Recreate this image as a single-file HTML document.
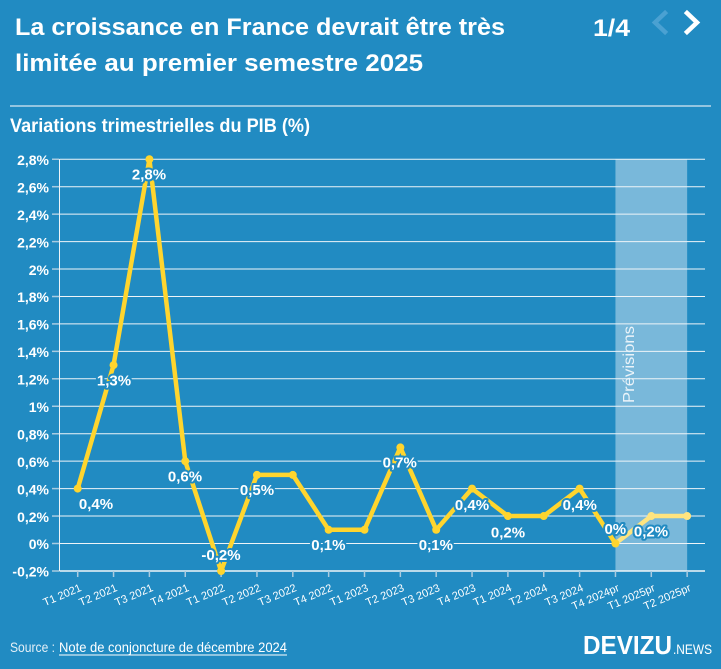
<!DOCTYPE html>
<html lang="fr">
<head>
<meta charset="utf-8">
<style>
  html,body{margin:0;padding:0;background:#218bc2;}
  svg{display:block;}
  text{font-family:"Liberation Sans", sans-serif;}
</style>
</head>
<body>
<svg width="721" height="669" viewBox="0 0 721 669" xmlns="http://www.w3.org/2000/svg">
  <rect x="0" y="0" width="721" height="669" fill="#218bc2"/>

  <!-- Header -->
  <text x="15" y="35" font-size="24" font-weight="bold" fill="#ffffff" textLength="490" lengthAdjust="spacingAndGlyphs">La croissance en France devrait être très</text>
  <text x="15" y="71" font-size="24" font-weight="bold" fill="#ffffff" textLength="408" lengthAdjust="spacingAndGlyphs">limitée au premier semestre 2025</text>
  <text x="593" y="36" font-size="24" font-weight="bold" fill="#ffffff" textLength="37" lengthAdjust="spacingAndGlyphs">1/4</text>
  <polyline points="665,13 655,22.5 665,32" fill="none" stroke="#4aa1d2" stroke-width="4.5" stroke-linecap="square"/>
  <polyline points="687,13 697,22.5 687,32" fill="none" stroke="#ffffff" stroke-width="4.5" stroke-linecap="square"/>

  <line x1="10" y1="106" x2="711" y2="106" stroke="#d9e8f2" stroke-width="1.2"/>
  <text x="10" y="132" font-size="19" font-weight="bold" fill="#ffffff" textLength="300" lengthAdjust="spacingAndGlyphs">Variations trimestrielles du PIB (%)</text>

  <!-- Forecast band -->
  <rect x="615.45" y="159.25" width="71.7" height="411.75" fill="#79b8da"/>

  <!-- Gridlines -->
  <g stroke="#eef4f8" stroke-width="1">
    <line x1="59.5" y1="159.25" x2="705" y2="159.25"/>
    <line x1="59.5" y1="186.7" x2="705" y2="186.7"/>
    <line x1="59.5" y1="214.15" x2="705" y2="214.15"/>
    <line x1="59.5" y1="241.6" x2="705" y2="241.6"/>
    <line x1="59.5" y1="269.05" x2="705" y2="269.05"/>
    <line x1="59.5" y1="296.5" x2="705" y2="296.5"/>
    <line x1="59.5" y1="323.9" x2="705" y2="323.9"/>
    <line x1="59.5" y1="351.35" x2="705" y2="351.35"/>
    <line x1="59.5" y1="378.8" x2="705" y2="378.8"/>
    <line x1="59.5" y1="406.25" x2="705" y2="406.25"/>
    <line x1="59.5" y1="433.75" x2="705" y2="433.75"/>
    <line x1="59.5" y1="461.15" x2="705" y2="461.15"/>
    <line x1="59.5" y1="488.6" x2="705" y2="488.6"/>
    <line x1="59.5" y1="516.05" x2="705" y2="516.05"/>
    <line x1="59.5" y1="543.5" x2="705" y2="543.5"/>
    <line x1="59.5" y1="571" x2="705" y2="571" stroke-width="1.5"/>
  </g>
  <!-- Y axis line -->
  <line x1="59.5" y1="159" x2="59.5" y2="571" stroke="#eef4f8" stroke-width="1"/>

  <!-- Y ticks -->
  <g stroke="#a9cbe0" stroke-width="1.5">
    <line x1="52" y1="159.25" x2="59" y2="159.25"/>
    <line x1="52" y1="186.7" x2="59" y2="186.7"/>
    <line x1="52" y1="214.15" x2="59" y2="214.15"/>
    <line x1="52" y1="241.6" x2="59" y2="241.6"/>
    <line x1="52" y1="269.05" x2="59" y2="269.05"/>
    <line x1="52" y1="296.5" x2="59" y2="296.5"/>
    <line x1="52" y1="323.9" x2="59" y2="323.9"/>
    <line x1="52" y1="351.35" x2="59" y2="351.35"/>
    <line x1="52" y1="378.8" x2="59" y2="378.8"/>
    <line x1="52" y1="406.25" x2="59" y2="406.25"/>
    <line x1="52" y1="433.75" x2="59" y2="433.75"/>
    <line x1="52" y1="461.15" x2="59" y2="461.15"/>
    <line x1="52" y1="488.6" x2="59" y2="488.6"/>
    <line x1="52" y1="516.05" x2="59" y2="516.05"/>
    <line x1="52" y1="543.5" x2="59" y2="543.5"/>
    <line x1="52" y1="571" x2="59" y2="571"/>
  </g>

  <!-- Y labels -->
  <g font-size="14" font-weight="bold" fill="#ffffff" text-anchor="end">
    <text x="49" y="165">2,8%</text>
    <text x="49" y="192.4">2,6%</text>
    <text x="49" y="219.9">2,4%</text>
    <text x="49" y="247.3">2,2%</text>
    <text x="49" y="274.8">2%</text>
    <text x="49" y="302.2">1,8%</text>
    <text x="49" y="329.6">1,6%</text>
    <text x="49" y="357.1">1,4%</text>
    <text x="49" y="384.5">1,2%</text>
    <text x="49" y="412">1%</text>
    <text x="49" y="439.5">0,8%</text>
    <text x="49" y="466.9">0,6%</text>
    <text x="49" y="494.3">0,4%</text>
    <text x="49" y="521.8">0,2%</text>
    <text x="49" y="549.2">0%</text>
    <text x="49" y="576.7">-0,2%</text>
  </g>

  <!-- X ticks -->
  <g stroke="#a9cbe0" stroke-width="1.5">
    <line x1="77.7" y1="571" x2="77.7" y2="577"/>
    <line x1="113.55" y1="571" x2="113.55" y2="577"/>
    <line x1="149.4" y1="571" x2="149.4" y2="577"/>
    <line x1="185.25" y1="571" x2="185.25" y2="577"/>
    <line x1="221.1" y1="571" x2="221.1" y2="577"/>
    <line x1="256.95" y1="571" x2="256.95" y2="577"/>
    <line x1="292.8" y1="571" x2="292.8" y2="577"/>
    <line x1="328.65" y1="571" x2="328.65" y2="577"/>
    <line x1="364.5" y1="571" x2="364.5" y2="577"/>
    <line x1="400.35" y1="571" x2="400.35" y2="577"/>
    <line x1="436.2" y1="571" x2="436.2" y2="577"/>
    <line x1="472.05" y1="571" x2="472.05" y2="577"/>
    <line x1="507.9" y1="571" x2="507.9" y2="577"/>
    <line x1="543.75" y1="571" x2="543.75" y2="577"/>
    <line x1="579.6" y1="571" x2="579.6" y2="577"/>
    <line x1="615.45" y1="571" x2="615.45" y2="577"/>
    <line x1="651.3" y1="571" x2="651.3" y2="577"/>
    <line x1="687.15" y1="571" x2="687.15" y2="577"/>
  </g>

  <!-- X labels -->
  <g font-size="11" fill="#ffffff" text-anchor="end">
    <text transform="translate(82.2,590.5) rotate(-23)">T1 2021</text>
    <text transform="translate(118.05,590.5) rotate(-23)">T2 2021</text>
    <text transform="translate(153.9,590.5) rotate(-23)">T3 2021</text>
    <text transform="translate(189.75,590.5) rotate(-23)">T4 2021</text>
    <text transform="translate(225.6,590.5) rotate(-23)">T1 2022</text>
    <text transform="translate(261.45,590.5) rotate(-23)">T2 2022</text>
    <text transform="translate(297.3,590.5) rotate(-23)">T3 2022</text>
    <text transform="translate(333.15,590.5) rotate(-23)">T4 2022</text>
    <text transform="translate(369,590.5) rotate(-23)">T1 2023</text>
    <text transform="translate(404.85,590.5) rotate(-23)">T2 2023</text>
    <text transform="translate(440.7,590.5) rotate(-23)">T3 2023</text>
    <text transform="translate(476.55,590.5) rotate(-23)">T4 2023</text>
    <text transform="translate(512.4,590.5) rotate(-23)">T1 2024</text>
    <text transform="translate(548.25,590.5) rotate(-23)">T2 2024</text>
    <text transform="translate(584.1,590.5) rotate(-23)">T3 2024</text>
    <text transform="translate(619.95,590.5) rotate(-23)">T4 2024pr</text>
    <text transform="translate(655.8,590.5) rotate(-23)">T1 2025pr</text>
    <text transform="translate(691.65,590.5) rotate(-23)">T2 2025pr</text>
  </g>

  <!-- Prévisions label -->
  <text transform="translate(634,403) rotate(-90)" font-size="16" fill="#eaf3f9" textLength="77" lengthAdjust="spacingAndGlyphs">Prévisions</text>

  <!-- Series line (actual) -->
  <polyline points="77.7,488.6 113.55,365.1 149.4,159.2 185.25,461.15 221.1,571 256.95,474.9 292.8,474.9 328.65,529.8 364.5,529.8 400.35,447.4 436.2,529.8 472.05,488.6 507.9,516.05 543.75,516.05 579.6,488.6 615.45,543.5"
    fill="none" stroke="#ffd52e" stroke-width="4.5" stroke-linejoin="round" stroke-linecap="round"/>
  <!-- Series line (forecast) -->
  <polyline points="615.45,543.5 651.3,516.05 687.15,516.05"
    fill="none" stroke="#ffe47f" stroke-width="4.5" stroke-linejoin="round" stroke-linecap="round"/>

  <!-- Markers -->
  <g fill="#ffd52e">
    <circle cx="77.7" cy="488.6" r="4"/>
    <circle cx="113.55" cy="365.1" r="4"/>
    <circle cx="149.4" cy="159.2" r="4"/>
    <circle cx="185.25" cy="461.15" r="4"/>
    <circle cx="221.1" cy="571" r="4"/>
    <circle cx="256.95" cy="474.9" r="4"/>
    <circle cx="292.8" cy="474.9" r="4"/>
    <circle cx="328.65" cy="529.8" r="4"/>
    <circle cx="364.5" cy="529.8" r="4"/>
    <circle cx="400.35" cy="447.4" r="4"/>
    <circle cx="436.2" cy="529.8" r="4"/>
    <circle cx="472.05" cy="488.6" r="4"/>
    <circle cx="507.9" cy="516.05" r="4"/>
    <circle cx="543.75" cy="516.05" r="4"/>
    <circle cx="579.6" cy="488.6" r="4"/>
    <circle cx="615.45" cy="543.5" r="4"/>
  </g>
  <g fill="#ffe47f">
    <circle cx="651.3" cy="516.05" r="4"/>
    <circle cx="687.15" cy="516.05" r="4"/>
  </g>

  <!-- Data labels -->
  <g font-size="15" font-weight="bold" fill="#ffffff" stroke="#218bc2" stroke-width="4" stroke-linejoin="round" paint-order="stroke" text-anchor="middle">
    <text x="96" y="509">0,4%</text>
    <text x="114" y="385.7">1,3%</text>
    <text x="149" y="179.3">2,8%</text>
    <text x="185" y="481.7">0,6%</text>
    <text x="221" y="560">-0,2%</text>
    <text x="257" y="495">0,5%</text>
    <text x="328.4" y="550">0,1%</text>
    <text x="399.7" y="467.7">0,7%</text>
    <text x="435.9" y="550">0,1%</text>
    <text x="472" y="510">0,4%</text>
    <text x="508" y="537.3">0,2%</text>
    <text x="579.7" y="510">0,4%</text>
    <text x="615.3" y="534">0%</text>
    <text x="651" y="536.7">0,2%</text>
  </g>

  <!-- Footer -->
  <text x="10" y="652" font-size="14" fill="#e3eff7" textLength="45" lengthAdjust="spacingAndGlyphs">Source :</text>
  <text x="59" y="652" font-size="14" fill="#ffffff" textLength="228" lengthAdjust="spacingAndGlyphs">Note de conjoncture de décembre 2024</text>
  <line x1="59" y1="655" x2="287" y2="655" stroke="#ffffff" stroke-width="1"/>

  <text x="583" y="654" font-size="26" font-weight="bold" fill="#ffffff" textLength="89" lengthAdjust="spacingAndGlyphs">DEVIZU</text>
  <text x="673" y="654" font-size="14" fill="#ffffff" textLength="39" lengthAdjust="spacingAndGlyphs">.NEWS</text>
</svg>
</body>
</html>
